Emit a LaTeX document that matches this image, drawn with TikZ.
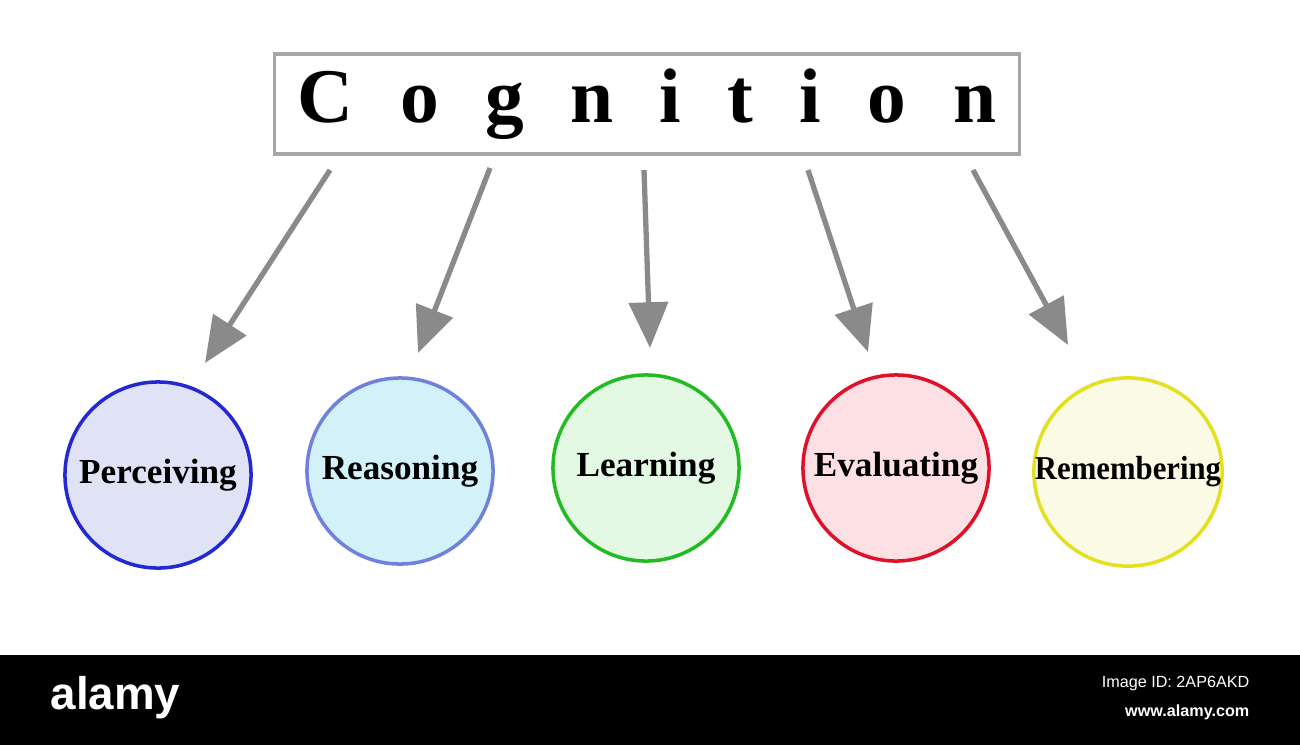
\documentclass[tikz,border=0pt]{standalone}
\usepackage{fontspec}
\setmainfont{Liberation Serif}
\newfontfamily\sansf{Liberation Sans}
\usetikzlibrary{arrows.meta}
\definecolor{arr}{HTML}{8A8A8A}
\tikzset{
  px/.style={x=0.01cm,y=-0.01cm},
  circ/.style={circle,minimum size=1.86cm,line width=1pt,inner sep=0pt,font=\fontsize{10}{12}\selectfont\bfseries},
  arrw/.style={draw=arr,line width=1.5pt,-{Triangle[length=13pt,width=11pt]}}
}
\begin{document}
\begin{tikzpicture}[px]
\useasboundingbox (0,0) rectangle (1300,745);
\fill[white] (0,0) rectangle (1300,655);
\fill[black] (0,655) rectangle (1300,745);
\node[draw=gray!70,line width=1pt,minimum width=7.45cm,minimum height=1cm,inner sep=0pt,font=\fontsize{22}{26}\selectfont\bfseries] (cog) at (647,104) {C\hspace{0.6em}o\hspace{0.6em}g\hspace{0.6em}n\hspace{0.6em}i\hspace{0.6em}t\hspace{0.6em}i\hspace{0.6em}o\hspace{0.6em}n};
\node[circ,draw={rgb,255:red,34;green,40;blue,210},fill={rgb,255:red,224;green,226;blue,246}] (c1) at (158,475) {Perceiving};
\node[circ,draw={rgb,255:red,111;green,128;blue,221},fill={rgb,255:red,211;green,241;blue,248}] (c2) at (400,471) {Reasoning};
\node[circ,draw={rgb,255:red,34;green,187;blue,34},fill={rgb,255:red,227;green,249;blue,227}] (c3) at (646,468) {Learning};
\node[circ,draw={rgb,255:red,224;green,16;blue,42},fill={rgb,255:red,252;green,224;blue,228}] (c4) at (896,468) {Evaluating};
\node[circ,draw={rgb,255:red,227;green,224;blue,32},fill={rgb,255:red,250;green,250;blue,229},font=\fontsize{9.5}{11}\selectfont\bfseries] (c5) at (1128,472) {\scalebox{0.92}[1]{Remembering}};
\coordinate (s1) at (330,170); \coordinate (e1) at (205,363);
\coordinate (s2) at (490,168); \coordinate (e2) at (418,353);
\coordinate (s3) at (644,170); \coordinate (e3) at (650,348);
\coordinate (s4) at (808,170); \coordinate (e4) at (868,352);
\coordinate (s5) at (973,170); \coordinate (e5) at (1068,345);
\foreach \i in {1,...,5} \draw[arrw] (s\i) -- (e\i);
\node[text=white,font=\sansf\bfseries\fontsize{13}{14}\selectfont,anchor=west,inner sep=0pt] (al) at (50,698) {alamy};
\node[text=white,font=\sansf\fontsize{4.6}{5.5}\selectfont,anchor=east,align=right,inner sep=0pt] (id) at (1250,698) {Image ID: 2AP6AKD\\[3pt]\bfseries www.alamy.com};
\end{tikzpicture}
\end{document}
